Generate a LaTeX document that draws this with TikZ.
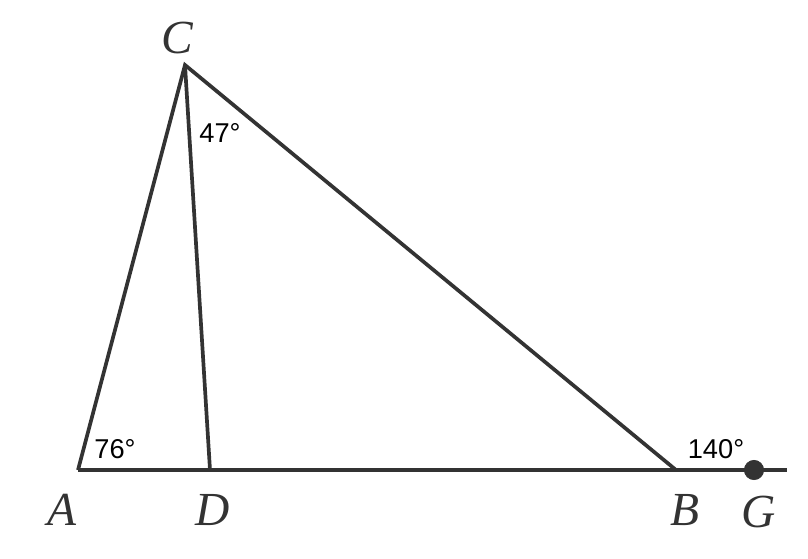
\documentclass[tikz,border=0pt]{standalone}
\usepackage{fontspec}
\setmainfont{Liberation Serif}
\newfontfamily\anglefont{Liberation Sans}
\definecolor{linegray}{HTML}{333333}
\tikzset{
  side/.style={line width=2.1pt, color=linegray, line join=miter},
  ptname/.style={font=\fontsize{27}{27}\selectfont\itshape, text=linegray},
  angname/.style={font=\fontsize{15.5}{16}\selectfont\anglefont, text=black}
}
\begin{document}
\begin{tikzpicture}[x=0.02cm, y=-0.02cm]
	\useasboundingbox (0,0) rectangle (808,558);
	\coordinate (A) at (78,470);
	\coordinate (D) at (210,470);
	\coordinate (B) at (676,470);
	\coordinate (C) at (185,65);
	\coordinate (E) at (787,470);
	\node[draw=linegray, fill=linegray, shape=circle, inner sep=0pt, minimum size=11pt] (G) at (754,470) {};
	
	\node[ptname] (lA) at (62,510) {A};
	\node[ptname] (lD) at (213,510) {D};
	\node[ptname] (lB) at (685,510) {B};
	\node[ptname] (lG) at (759,512) {G};
	\node[ptname] (lC) at (177,38) {C};
	
	\node[angname] (a1) at (115,449) {76°};
	\node[angname] (a2) at (220,133) {47°};
	\node[angname] (a3) at (716,449) {140°};
	
	\draw[side] (A)--(E);
	\draw[side] (A)--(C)--(B);
	\draw[side] (C)--(D);
\end{tikzpicture}
\end{document}
